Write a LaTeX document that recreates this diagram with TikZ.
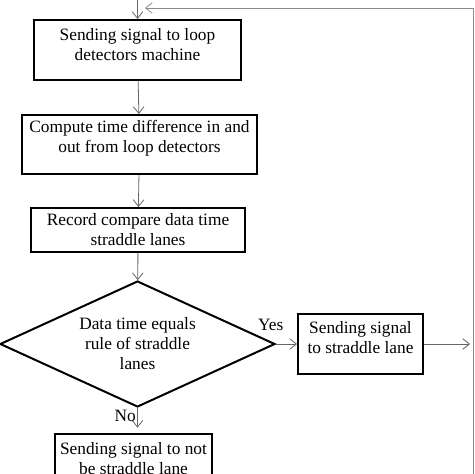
\documentclass[tikz,border=0pt]{standalone}
\usepackage{fontspec}
\setmainfont{Liberation Serif}
\usetikzlibrary{shapes.geometric,arrows.meta}
\tikzset{
  box/.style={draw=black, line width=1.5pt, align=center, inner sep=2pt},
  decision/.style={draw=black, line width=1.5pt, shape=diamond, shape aspect=2.18, align=center, inner sep=0pt,
    minimum width=206.25pt, minimum height=94.5pt},
  flow/.style={draw=black!60, line width=0.6pt, -{Straight Barb[length=5pt,width=8pt]}},
  feedback/.style={draw=black!45, line width=0.6pt, -{Straight Barb[length=5pt,width=8pt]}},
}
\begin{document}
\begin{tikzpicture}[x=0.75pt,y=-0.75pt,font=\fontsize{13pt}{15pt}\selectfont]
\useasboundingbox (0,0) rectangle (474,474);

\node[box, minimum width=155.25pt, minimum height=45pt, text depth=9pt] (send) at (137.5,50) {Sending signal to loop\\detectors machine};
\node[box, minimum width=176.25pt, minimum height=44.25pt, text depth=11.5pt] (diff) at (139.5,144.5) {Compute time difference in and\\out from loop detectors};
\node[box, minimum width=160.5pt, minimum height=33pt] (record) at (138,230) {Record compare data time\\straddle lanes};
\node[decision] (rule) at (137.5,344) {Data time equals\\rule of straddle\\lanes};
\node[box, minimum width=93.75pt, minimum height=45pt, text depth=10.5pt] (yes) at (360.5,344) {Sending signal\\to straddle lane};
\node[box, minimum width=117.75pt, minimum height=45pt, text depth=9pt] (no) at (133.5,464) {Sending signal to not\\be straddle lane};

\coordinate (entry) at (137.5,0);
\coordinate (out) at (470,344);
\coordinate (loopbot) at (473,474);
\coordinate (looptop) at (473,8);
\coordinate (loopin) at (145,8);

\draw[flow] (entry) -- (send.north);
\draw[flow] (send) -- (diff);
\draw[flow] (diff) -- (record);
\draw[flow] (record) -- (rule);
\draw[flow] (rule) -- node[at start, above, xshift=-4pt, yshift=6pt] {Yes} (yes);
\draw[flow, shorten >=4pt] (rule.south) -- node[pos=0.3, left, inner sep=1pt] {No} (no.north -| rule.south);
\draw[flow] (yes) -- (out);
\draw[feedback] (loopbot) -- (looptop) -- (loopin);
\end{tikzpicture}
\end{document}
